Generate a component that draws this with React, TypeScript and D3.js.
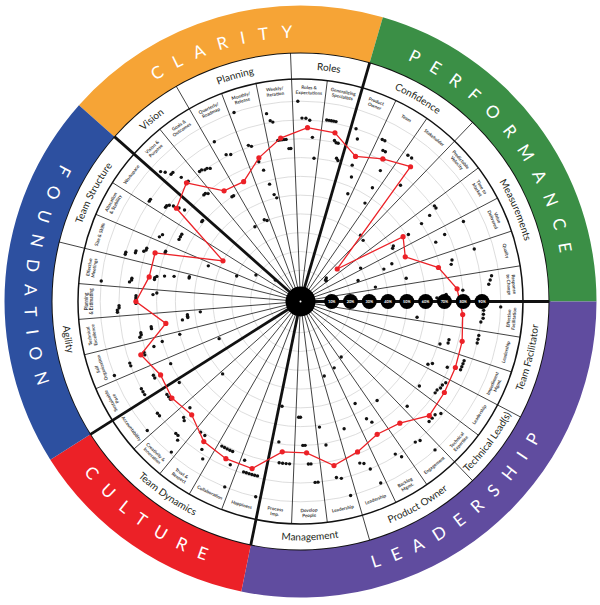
import React from "react";
import * as d3 from "d3";

// one entry per spoke, clockwise from the Clarity/Foundation boundary
const categories = [
  "Vision &\nPurpose", "Goals &\nOutcomes", "Quarterly/\nRoadmap", "Monthly/\nRelease", "Weekly/\nIteration",
  "Roles &\nExpectations", "Generalizing\nSpecialists",
  "Product\nOwner", "Team", "Stakeholder",
  "Predictable\nVelocity", "Time to\nMarket", "Value\nDelivered", "Quality", "Response\nto Change",
  "Effective\nFacilitation", "Leadership", "Impediment\nMgmt.",
  "Leadership", "Technical\nExpertise",
  "Engagement", "Backlog\nMgmt.", "Leadership",
  "Leadership", "Develop\nPeople", "Process\nImp.",
  "Happiness", "Collaboration", "Trust &\nRespect", "Creativity &\nInnovation", "Accountability",
  "Sustainable\nPace", "Self\nOrganization", "Technical\nExcellence", "Planning\n& Estimating", "Effective\nMeetings",
  "Size & Skills", "Allocation\n& Stability", "Workspace",
];

const groupNames = [
  "Vision", "Planning", "Roles", "Confidence", "Measurements", "Team Facilitator",
  "Technical Lead(s)", "Product Owner", "Management", "Team Dynamics", "Agility", "Team Structure",
];
const groupSizes = [2, 3, 2, 3, 5, 3, 2, 3, 3, 5, 5, 3];

const pillarNames = ["CLARITY", "PERFORMANCE", "LEADERSHIP", "CULTURE", "FOUNDATION"];
const pillarSizes = [7, 8, 11, 5, 8];
const pillarColors = ["#f6a436", "#3b8f46", "#604c9f", "#ec2127", "#2d50a0"];

// team average (red line), percent
const teamAverage = [
  81, 65, 64, 73, 81, 86, 85, 76, 81, 86, 19.5, 58, 54, 69, 77,
  80, 82, 83, 84, 85, 77, 75, 79, 82.5, 74, 74, 86, 86, 84, 77, 79,
  77.5, 83, 66, 81, 75, 75, 40, 76,
];

// individual answers (black dots), percent, one list per spoke
const responses = [
  [95, 93, 90, 90, 85, 81, 70, 70, 69],
  [81, 81, 80, 80, 79, 60, 60, 40],
  [90, 81, 80, 41, 40],
  [100, 81, 80, 71, 66, 58, 52, 50],
  [95, 91, 90, 80, 80, 80, 80, 80, 75, 75],
  [100, 91, 91, 90, 81, 70],
  [91, 91, 91, 91, 91, 81, 80, 80, 72, 71],
  [90, 85, 71, 65, 56],
  [90, 90, 85, 85, 81, 75, 65, 56],
  [90, 90, 86, 75, 41],
  [40, 12, 11, 11],
  [81, 81, 76, 70, 61, 51, 50, 30],
  [90, 78, 72, 46, 41, 26],
  [90, 77, 76, 51, 34],
  [96, 95, 94, 80, 71, 66],
  [100, 91, 91, 91, 90, 56],
  [90, 90, 90, 75, 75, 71],
  [86, 86, 86, 86, 79, 71, 69],
  [82, 81, 81, 80, 80, 71],
  [89, 87, 87, 87, 73],
  [100, 91, 90, 60, 30],
  [92, 89, 68, 65, 55, 33],
  [99, 90, 86, 85, 65, 35],
  [100, 90, 89, 71, 61],
  [90, 90, 80, 80, 70, 70, 55, 55],
  [80, 80, 80, 80, 69, 50],
  [100, 89, 89, 89, 89, 89, 89, 83],
  [100, 88, 81, 81, 81, 81, 81],
  [92, 88, 81, 81],
  [99, 92, 90, 90, 82, 81, 75, 50],
  [100, 90, 90, 80, 80, 80, 71],
  [90, 90, 90, 81, 81, 70, 41],
  [100, 90, 90, 81, 81, 75, 70, 60],
  [81, 80, 80, 74, 74, 57, 54, 54, 54, 47],
  [91, 91, 90, 90, 81, 81, 81, 81, 81, 72, 70],
  [100, 85, 84, 84, 72, 72, 71, 67, 62, 54, 54],
  [90, 90, 85, 85, 81, 80, 80, 70, 70, 46, 30],
  [76, 75, 66, 66, 66, 21],
  [90, 90, 81, 81, 80, 78, 75, 72, 61, 61, 11],
];

const axisTicks = [10, 20, 30, 40, 50, 60, 70, 80, 90];
const ringTicks = [10, 20, 30, 40, 50, 60, 70, 80, 90, 100];

const deg = Math.PI / 180;
const cx = 300.5, cy = 301.5;
const START_DEG = -48.46; // where Clarity begins
const R_LABEL_IN = 222.5, R_BAND_OUT = 249, R_OUT = 296;

const pt = (a: number, r: number) => [r * Math.sin(a), -r * Math.cos(a)];

// arc used by textPath; ccw paths read left-to-right along the bottom
const arcPath = (a0: number, a1: number, r: number, ccw: boolean) => {
  const p0 = pt(a0, r), p1 = pt(a1, r);
  const large = a1 - a0 > Math.PI ? 1 : 0;
  return ccw
    ? `M${p1[0]},${p1[1]}A${r},${r} 0 ${large} 0 ${p0[0]},${p0[1]}`
    : `M${p0[0]},${p0[1]}A${r},${r} 0 ${large} 1 ${p1[0]},${p1[1]}`;
};

const App = () => {
  const n = categories.length;
  const angle = d3.scaleLinear().domain([0, n]).range([START_DEG * deg, (START_DEG + 360) * deg]);
  const radius = d3.scaleLinear().domain([0, 100]).range([12.4, 200.3]);

  const groupStarts = Array.from(d3.cumsum([0, ...groupSizes]));
  const pillarStarts = Array.from(d3.cumsum([0, ...pillarSizes]));

  const ringArc = d3.arc().innerRadius(R_BAND_OUT).outerRadius(R_OUT);

  const redLine = d3.lineRadial<number>()
    .angle((d, i) => angle(i + 0.5))
    .radius(d => radius(d))
    .curve(d3.curveLinearClosed);

  const mid = (s: number, e: number) => ((angle((s + e) / 2) / deg) % 360 + 360) % 360;

  return (
    <svg width={600} height={605} style={{position: "absolute", left: 0, top: 0, background: "#fff"}}
         fontFamily="Lato, 'Open Sans', sans-serif">
      <g transform={`translate(${cx},${cy})`}>
        <circle r={R_BAND_OUT} fill="#fff"/>

        {/* percent rings */}
        {ringTicks.map(t => (
          <circle key={t} r={radius(t)} fill="none" stroke="#cfcfcf" strokeWidth={0.7}/>
        ))}

        {/* spokes */}
        {d3.range(n).map(i => {
          const thick = pillarStarts.includes(i);
          const outer = thick || groupStarts.includes(i) ? R_BAND_OUT : R_LABEL_IN;
          const p0 = pt(angle(i), 14), p1 = pt(angle(i), outer);
          return <line key={i} x1={p0[0]} y1={p0[1]} x2={p1[0]} y2={p1[1]}
                       stroke="#111" strokeWidth={thick ? 2.8 : 0.8}/>;
        })}

        <circle r={R_LABEL_IN} fill="none" stroke="#111" strokeWidth={1.5}/>
        <circle r={R_BAND_OUT} fill="none" stroke="#111" strokeWidth={2}/>

        {/* coloured pillars */}
        {pillarNames.map((name, k) => {
          const s = pillarStarts[k], e = pillarStarts[k + 1];
          const d = ringArc({startAngle: angle(s), endAngle: angle(e)} as any) as string;
          const m = mid(s, e);
          const ccw = m > 90 && m < 280;
          return (
            <g key={name}>
              <path d={d} fill={pillarColors[k]}/>
              <path id={`pillar-${k}`} d={arcPath(angle(s), angle(e), ccw ? 276 : 264, ccw)} fill="none"/>
              <text fill="#fff" fontSize={17} letterSpacing={13}>
                <textPath href={`#pillar-${k}`} startOffset="50%" textAnchor="middle">{name}</textPath>
              </text>
            </g>
          );
        })}

        {/* group labels */}
        {groupNames.map((name, k) => {
          const s = groupStarts[k], e = groupStarts[k + 1];
          const m = mid(s, e);
          const ccw = m > 90 && m < 280;
          return (
            <g key={name}>
              <path id={`group-${k}`} d={arcPath(angle(s), angle(e), ccw ? 239 : 232, ccw)} fill="none"/>
              <text fill="#231f20" fontSize={10}>
                <textPath href={`#group-${k}`} startOffset="50%" textAnchor="middle">{name}</textPath>
              </text>
            </g>
          );
        })}

        {/* spoke labels */}
        {categories.map((label, i) => {
          const a = angle(i + 0.5);
          const d = ((a / deg) % 360 + 360) % 360;
          const rot = d > 90 && d < 238 ? d - 180 : d;
          const p = pt(a, 211.5);
          const lines = label.split("\n");
          return (
            <text key={i} transform={`translate(${p[0]},${p[1]}) rotate(${rot})`}
                  fontSize={4.6} fontWeight={700} fill="#3a3a3a" textAnchor="middle">
              {lines.map((l, j) => (
                <tspan key={j} x={0} y={(j - (lines.length - 1) / 2) * 5.2 + 1.6}>{l}</tspan>
              ))}
            </text>
          );
        })}

        {/* individual answers */}
        {responses.map((vals, i) => vals.map((v, j) => {
          const p = pt(angle(i + 0.1 + 0.8 * (j + 0.5) / vals.length), radius(v));
          return <circle key={`${i}-${j}`} cx={p[0]} cy={p[1]} r={1.7} fill="#111"/>;
        }))}

        {/* team average */}
        <path d={redLine(teamAverage) as string} fill="none" stroke="#ec2127" strokeWidth={1.3}/>
        {teamAverage.map((v, i) => {
          const p = pt(angle(i + 0.5), radius(v));
          return <circle key={i} cx={p[0]} cy={p[1]} r={2.6} fill="#ec2127"/>;
        })}

        {/* hub and percent axis */}
        <circle r={15} fill="#000"/>
        <circle r={1} fill="#fff"/>
        {axisTicks.map(t => (
          <g key={t} transform={`translate(${radius(t)},0)`}>
            <circle r={7.5} fill="#000"/>
            <text fill="#fff" fontSize={3.8} fontWeight={700} textAnchor="middle" dy={1.3}>{t}%</text>
          </g>
        ))}
      </g>
    </svg>
  );
};

export default App;
